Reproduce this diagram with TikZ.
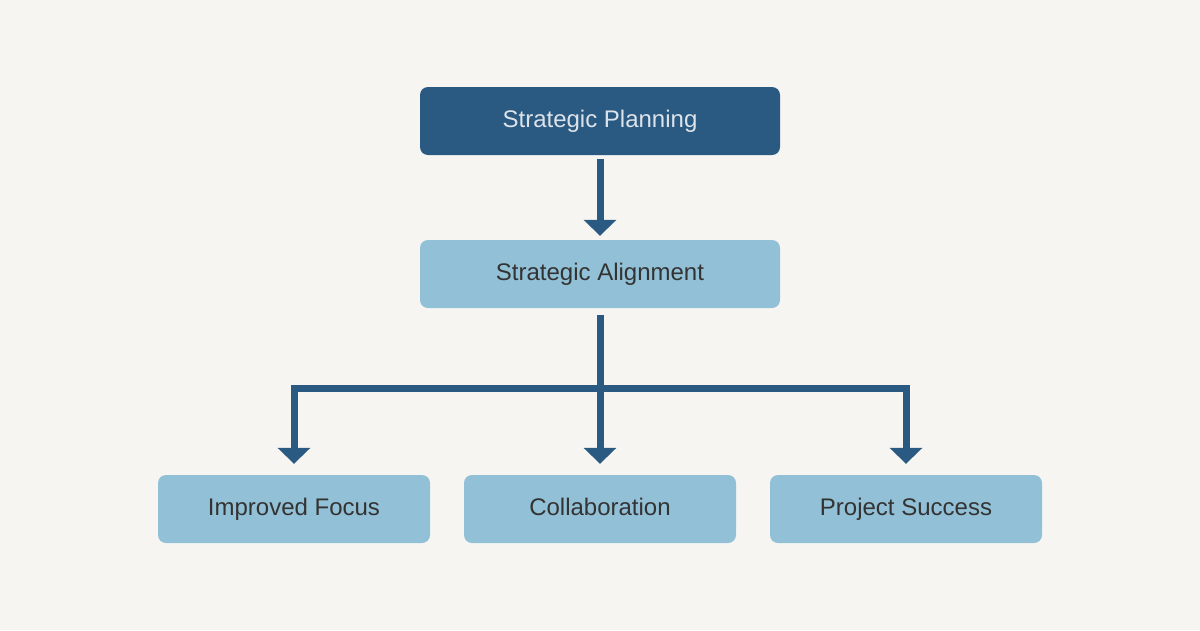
\documentclass[tikz,border=0pt]{standalone}
\usepackage{fontspec}
\setmainfont{Liberation Sans}
\usetikzlibrary{arrows.meta}
\definecolor{bg}{HTML}{F6F5F2}
\definecolor{dark}{HTML}{2A5982}
\definecolor{light}{HTML}{92C0D6}
\definecolor{txt}{HTML}{333333}
\definecolor{ltxt}{HTML}{DDE3EA}
\begin{document}
\begin{tikzpicture}[x=1pt,y=-1pt,
  box/.style={rounded corners=8pt,fill=light,text=txt,font=\fontsize{24}{28}\selectfont,inner sep=0pt,text height=17pt,text depth=5pt},
  arr/.style={draw=dark,line width=7pt,-{Triangle[width=32pt,length=16pt]}}]
\fill[bg] (0,0) rectangle (1200,630);
\useasboundingbox (0,0) rectangle (1200,630);
\node[box,fill=dark,text=ltxt,minimum width=360pt,minimum height=68pt] (sp) at (600,121) {Strategic Planning};
\node[box,minimum width=360pt,minimum height=68pt] (sa) at (600,274) {Strategic Alignment};
\node[box,minimum width=272pt,minimum height=68pt] (f) at (294,509) {Improved Focus};
\node[box,minimum width=272pt,minimum height=68pt] (c) at (600,509) {Collaboration};
\node[box,minimum width=272pt,minimum height=68pt] (p) at (906,509) {Project Success};
\coordinate (j) at (600,388);
\draw[arr] ([yshift=-4pt]sp.south) -- ([yshift=4pt]sa.north);
\draw[arr] ([yshift=-7pt]sa.south) -- ([yshift=11pt]c.north);
\draw[arr,-,line cap=rect] (j -| f) -- (j -| p);
\draw[arr] (j -| f) -- ([yshift=11pt]f.north);
\draw[arr] (j -| p) -- ([yshift=11pt]p.north);
\end{tikzpicture}
\end{document}
